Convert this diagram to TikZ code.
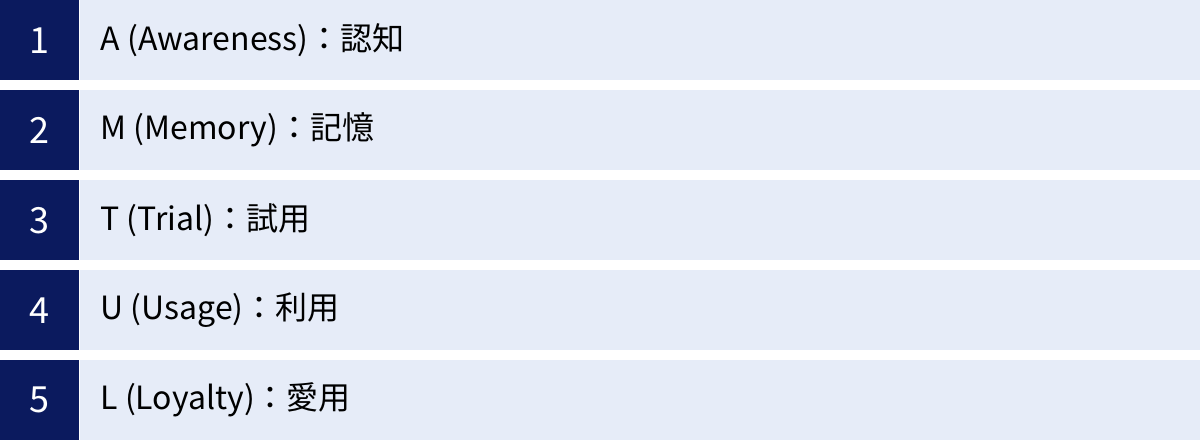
\documentclass[tikz,border=0pt]{standalone}
\usepackage{fontspec}
\setmainfont{Noto Sans CJK JP}
\usetikzlibrary{positioning}
\definecolor{navy}{HTML}{0B1A5E}
\definecolor{pale}{HTML}{E6ECF8}
\tikzset{
  numbox/.style={rectangle, fill=navy, text=white, inner sep=0pt,
    minimum width=79pt, minimum height=80pt, anchor=north west,
    font=\fontsize{36}{36}\selectfont},
  barbox/.style={rectangle, fill=pale, inner sep=0pt,
    minimum width=1121pt, minimum height=80pt},
  labtext/.style={anchor=west, inner sep=0pt, text=black,
    font=\fontsize{32}{32}\selectfont}
}

\begin{document}
\begin{tikzpicture}[x=1pt, y=-1pt]
\useasboundingbox (0,0) rectangle (1200,441);
\foreach \i/\t in {1/{A (Awareness)：認知}, 2/{M (Memory)：記憶},
    3/{T (Trial)：試用}, 4/{U (Usage)：利用}, 5/{L (Loyalty)：愛用}}{
  \node[numbox] (n\i) at (0, {(\i-1)*90}) {\i};
  \node[barbox, right=0pt of n\i] (b\i) {};
  \node[labtext] (t\i) at ([xshift=21pt]b\i.west) {\t};
}
\end{tikzpicture}
\end{document}
